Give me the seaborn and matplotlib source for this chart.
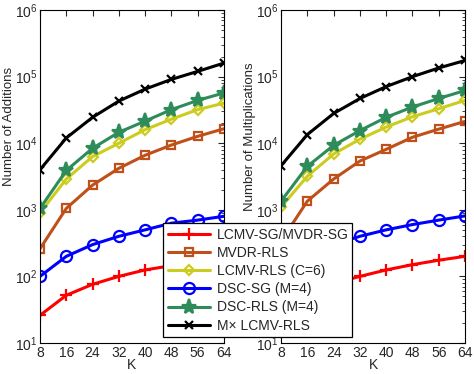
import numpy as np
import pandas as pd
import matplotlib
matplotlib.use('Agg')
import matplotlib.pyplot as plt
import seaborn as sns

# K values on the x axis
K = [8, 16, 24, 32, 40, 48, 56, 64]

labels = ['LCMV-SG/MVDR-SG', 'MVDR-RLS', 'LCMV-RLS (C=6)',
          'DSC-SG (M=4)', 'DSC-RLS (M=4)', 'M\u00d7 LCMV-RLS']

# number of additions (left panel)
add_sg = [26, 52, 76, 100, 125, 145, 170, 190]
add_mvdr_rls = [260, 1050, 2350, 4200, 6600, 9400, 12700, 16500]
add_lcmv_rls = [900, 2900, 6300, 10000, 16000, 23000, 32000, 40000]
add_dsc_sg = [100, 200, 300, 400, 500, 630, 700, 800]
add_dsc_rls = [1050, 3900, 8400, 14600, 21500, 32000, 44000, 57000]
add_mx_lcmv = [4000, 12000, 24500, 43000, 65000, 91000, 120000, 160000]

# number of multiplications (right panel)
mul_sg = [28, 55, 78, 100, 125, 150, 175, 200]
mul_mvdr_rls = [340, 1350, 2900, 5400, 8100, 12300, 16300, 21300]
mul_lcmv_rls = [1100, 3200, 6900, 11500, 17500, 25000, 33000, 44000]
mul_dsc_sg = [100, 200, 300, 400, 500, 600, 700, 810]
mul_dsc_rls = [1350, 4500, 9300, 15500, 24500, 35000, 47000, 62000]
mul_mx_lcmv = [4600, 13500, 28000, 47000, 71000, 100000, 135000, 175000]

colors = ['#ff0000', '#c0501a', '#cccc1e', '#0000ff', '#2e8b5a', '#000000']
markers = ['+', 's', 'D', 'o', '*', 'x']
msizes = [8, 6, 5, 8, 11, 6]
fills = ['none', 'none', 'none', 'none', None, 'none']


def mk_panel(ax, series, ylabel, label_y):
    for i, vals in enumerate(series):
        df = pd.DataFrame({'K': K, 'n': vals})
        kw = dict(marker=markers[i], markersize=msizes[i], markeredgewidth=1.6,
                  markeredgecolor=colors[i])
        if fills[i] is not None:
            kw['markerfacecolor'] = 'none'
        else:
            kw['markerfacecolor'] = colors[i]
        sns.lineplot(data=df, x='K', y='n', ax=ax, color=colors[i], linewidth=2.2,
                     label=labels[i], legend=False, **kw)
    ax.set_yscale('log')
    ax.set_ylim(10, 1e6)
    ax.set_xlim(8, 64)
    ax.set_xticks(K)
    ax.set_xlabel('K', fontsize=10, labelpad=-1)
    ax.set_ylabel(ylabel, fontsize=9.5)
    ax.yaxis.set_label_coords(-0.135, label_y)
    ax.tick_params(which='both', direction='in', top=True, right=True, labelsize=10)
    ax.tick_params(axis='x', pad=2)
    ax.tick_params(axis='y', pad=2)
    ax.tick_params(which='major', length=4)
    ax.tick_params(which='minor', length=2)
    for s in ax.spines.values():
        s.set_color('black')
        s.set_linewidth(0.8)
    return ax


def main():
    sns.set_style('white')
    plt.rcParams['font.family'] = ['Liberation Sans', 'DejaVu Sans']
    plt.rcParams['mathtext.fontset'] = 'custom'
    plt.rcParams['mathtext.rm'] = 'Liberation Sans'

    fig = plt.figure(figsize=(4.74, 3.74), dpi=100)
    ax1 = fig.add_axes([0.0844, 0.083, 0.388, 0.890])
    ax2 = fig.add_axes([0.593, 0.083, 0.388, 0.890])

    mk_panel(ax1, [add_sg, add_mvdr_rls, add_lcmv_rls, add_dsc_sg, add_dsc_rls, add_mx_lcmv],
             'Number of Additions', 0.65)
    mk_panel(ax2, [mul_sg, mul_mvdr_rls, mul_lcmv_rls, mul_dsc_sg, mul_dsc_rls, mul_mx_lcmv],
             'Number of Multiplications', 0.62)

    handles, labs = ax1.get_legend_handles_labels()
    leg = fig.legend(handles, labs, loc='upper left',
                     bbox_to_anchor=(0.344, 0.096, 0.399, 0.308), mode='expand',
                     fontsize=10, frameon=True, fancybox=False, borderaxespad=0,
                     handlelength=3.0, labelspacing=0.3, borderpad=0.35,
                     handletextpad=0.5)
    leg.get_frame().set_edgecolor('black')
    leg.get_frame().set_linewidth(0.9)
    leg.get_frame().set_alpha(1)

    plt.savefig('out.png', dpi=100)


if __name__ == "__main__":
    main()
